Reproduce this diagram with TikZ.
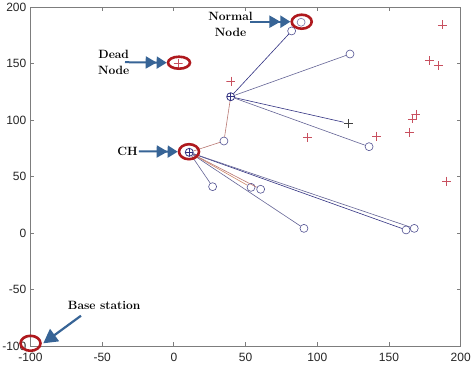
\documentclass[tikz,border=0pt]{standalone}
\usepackage{fontspec}
\newfontfamily\axisfont{Liberation Sans}
\usetikzlibrary{shapes.geometric,arrows.meta}
\definecolor{axisgray}{RGB}{125,125,125}
\definecolor{mkblue}{RGB}{80,80,145}
\definecolor{navyline}{RGB}{50,50,130}
\definecolor{slateline}{RGB}{100,100,150}
\definecolor{rosyline}{RGB}{185,120,115}
\definecolor{salmonline}{RGB}{205,135,105}
\definecolor{rplus}{RGB}{200,80,95}
\definecolor{ringred}{RGB}{175,25,30}
\definecolor{arrowblue}{RGB}{55,100,150}
\begin{document}
\begin{tikzpicture}[x=1pt,y=-1pt,
  axisline/.style={draw=axisgray,line width=0.9pt},
  ticklbl/.style={font=\axisfont\fontsize{12pt}{14pt}\selectfont,text=black!85,inner sep=0pt},
  mk/.style={circle,draw=mkblue,line width=0.6pt,minimum size=8pt,inner sep=0pt},
  plusmark/.style={inner sep=0pt,minimum size=9pt,
    path picture={\draw[#1,line width=0.9pt]
      (path picture bounding box.north) -- (path picture bounding box.south)
      (path picture bounding box.west) -- (path picture bounding box.east);}},
  redplus/.style={plusmark=rplus},
  chnode/.style={mk,draw=navyline,line width=0.8pt,
    path picture={\draw[navyline,line width=0.8pt]
      (path picture bounding box.north) -- (path picture bounding box.south)
      (path picture bounding box.west) -- (path picture bounding box.east);}},
  link/.style={line width=0.6pt},
  ring/.style={ellipse,draw=ringred,line width=2.6pt,inner sep=0pt},
  lbl/.style={font=\fontsize{12pt}{16pt}\selectfont\bfseries,align=center,inner sep=1pt},
  dblarrow/.style={draw=arrowblue,line width=2pt,
    -{Triangle[length=11pt,width=12pt,fill=arrowblue]Triangle[length=10pt,width=12pt,fill=arrowblue]}},
  sglarrow/.style={draw=arrowblue,line width=2.2pt,
    -{Triangle[length=14pt,width=15pt,fill=arrowblue]}}
]
\useasboundingbox (0,0) rectangle (474,367);
\fill[white] (0,0) rectangle (474,367);

\begin{scope}[shift={(173.9pt,-233pt)},x=1.434pt,y=1.13pt]
  % axes box and ticks
  \draw[axisline] (-100,-100) rectangle (200,200);
  \foreach \tk in {-100,-50,...,200} {
    \draw[axisline] (\tk,-100) -- ++(0pt,4pt);
    \draw[axisline] (\tk,200) -- ++(0pt,-4pt);
    \draw[axisline] (-100,\tk) -- ++(4pt,0pt);
    \draw[axisline] (200,\tk) -- ++(-4pt,0pt);
    \node[ticklbl,anchor=center] at ([yshift=-11.5pt]\tk,-100) {\tk};
    \node[ticklbl,anchor=east] at ([xshift=-4pt]-100,\tk) {\tk};
  }

  % nodes
  \node[chnode] (CH1) at (10.7,71.4) {};
  \node[chnode] (CH2) at (39.6,120.6) {};
  \node[mk] (R) at (34.9,81.4) {};
  \node[mk] (a1) at (27.0,41.0) {};
  \node[mk] (a2) at (53.8,40.4) {};
  \node[mk] (a3) at (60.5,38.7) {};
  \node[mk] (a4) at (90.7,4.1) {};
  \node[mk] (a5) at (161.9,2.7) {};
  \node[mk] (a6) at (167.6,4.1) {};
  \node[mk] (b1) at (82.1,178.8) {};
  \node[mk] (b2) at (122.8,158.4) {};
  \node[plusmark=black!75] (b3) at (121.6,97.1) {};
  \node[mk] (b4) at (136.1,76.4) {};
  \node[mk,draw=mkblue!80] (N) at (88.7,186.5) {};
  \node[redplus] (D) at (3.0,150.2) {};
  \coordinate (BS) at (-100,-97.6);

  \node[redplus] (r1) at (39.8,134.5) {};
  \node[redplus] (r2) at (93.0,84.3) {};
  \node[redplus] (r3) at (141.4,85.8) {};
  \node[redplus] (r4) at (187.2,184.1) {};
  \node[redplus] (r5) at (178.1,152.5) {};
  \node[redplus] (r6) at (184.4,148.1) {};
  \node[redplus] (r7) at (168.8,105.0) {};
  \node[redplus] (r8) at (166.3,100.9) {};
  \node[redplus] (r9) at (164.2,89.1) {};
  \node[redplus] (r10) at (190.2,46.0) {};

  % links
  \draw[link,rosyline] (CH1) -- (R);
  \draw[link,rosyline] (R) -- (CH2);
  \draw[link,slateline] (CH1) -- (a1);
  \draw[link,salmonline] (CH1) -- (a2);
  \draw[link,rosyline] (CH1) -- (a3);
  \draw[link,slateline] (CH1) -- (a4);
  \draw[link,navyline] (CH1) -- (a5);
  \draw[link,slateline] (CH1) -- (a6);
  \draw[link,navyline] (CH2) -- (b1);
  \draw[link,slateline] (CH2) -- (b2);
  \draw[link,navyline] (CH2) -- (b3);
  \draw[link,slateline] (CH2) -- (b4);
\end{scope}

% highlight rings
\node[ring,minimum width=22pt,minimum height=12pt] (Dring) at (179,62.7) {};
\node[ring,minimum width=20pt,minimum height=15pt] (CHring) at (189,151.7) {};
\node[ring,minimum width=20pt,minimum height=14pt] (Nring) at (301.7,21.7) {};
\node[ring,minimum width=20pt,minimum height=15pt] (BSring) at (BS) {};

% labels
\node[lbl] (deadlbl) at (113.7,62.2) {Dead\\Node};
\node[lbl] (normlbl) at (230.5,24) {Normal\\Node};
\node[lbl] (chlbl) at (127.5,151.3) {CH};
\node[lbl] (bslbl) at (104.2,305) {Base station};

% arrows
\coordinate (ds) at (125,62.2);
\coordinate (ns) at (250,21.7);
\coordinate (bss) at (81,315.7);
\coordinate (bst) at (43.3,343.3);
\draw[dblarrow] (ds) -- (Dring.west);
\draw[dblarrow] (chlbl.east) -- (CHring.west);
\draw[dblarrow] (ns) -- (Nring.west);
\draw[sglarrow] (bss) -- (bst);
\end{tikzpicture}
\end{document}
